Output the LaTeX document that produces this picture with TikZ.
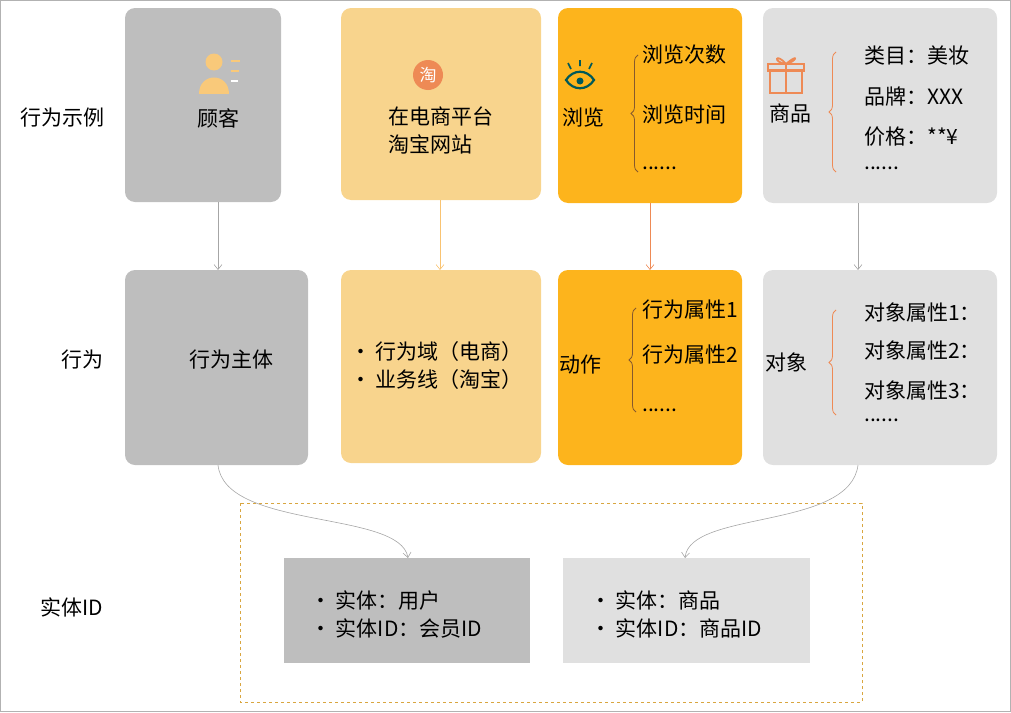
\documentclass[tikz,border=0pt]{standalone}
\usepackage{fontspec}
\setmainfont{Noto Sans CJK SC}
\usetikzlibrary{decorations.pathreplacing,arrows.meta}
\definecolor{cgray}{HTML}{BEBEBE}
\definecolor{clor}{HTML}{F8D48D}
\definecolor{cor}{HTML}{FDB41C}
\definecolor{clg}{HTML}{E0E0E0}
\definecolor{cred}{HTML}{EE8A55}
\definecolor{cgold}{HTML}{D9A640}
\definecolor{cface}{HTML}{F9C97A}
\begin{document}
\begin{tikzpicture}[x=1pt,y=-1pt,
  box/.style={rounded corners=10pt},
  txt/.style={font=\fontsize{21}{28}\selectfont, align=left, inner sep=0},
  conn/.style={draw=gray!70, line width=0.6pt, -{Straight Barb[length=5pt,width=8pt]}},
  br/.style={decorate, decoration={brace, amplitude=7pt}, line width=0.8pt}]
\useasboundingbox (0,0) rectangle (1011,712);
\draw[gray!60] (0.5,0.5) rectangle (1010.5,711.5);
% row 1
\fill[cgray,box] (125,8) rectangle (281,202);
\fill[clor,box] (341,8) rectangle (541,200);
\fill[cor,box] (558,8) rectangle (742,203);
\fill[clg,box] (763,8) rectangle (997,203);
% row 2
\fill[cgray,box] (125,270) rectangle (308,465);
\fill[clor,box] (341,270) rectangle (541,463);
\fill[cor,box] (558,270) rectangle (742,465);
\fill[clg,box] (763,270) rectangle (997,465);
% dashed
\draw[cgold, dashed, line width=0.8pt] (240,503) rectangle (862,702);
\fill[cgray] (284,558) rectangle (530,663);
\fill[clg] (563,558) rectangle (810,663);
% coordinates for connectors
\coordinate (a1) at (218,202); \coordinate (a2) at (218,270);
\coordinate (b1) at (440,200); \coordinate (b2) at (440,270);
\coordinate (c1) at (650,203); \coordinate (c2) at (650,270);
\coordinate (d1) at (858,203); \coordinate (d2) at (858,270);
\coordinate (e1) at (218,465); \coordinate (e2) at (408,558);
\coordinate (f1) at (858,465); \coordinate (f2) at (685,558);
\draw[conn] (a1) -- (a2);
\draw[conn, draw=clor!80!orange] (b1) -- (b2);
\draw[conn, draw=cred] (c1) -- (c2);
\draw[conn] (d1) -- (d2);
\draw[conn] (e1) .. controls (225,530) and (400,510) .. (e2);
\draw[conn] (f1) .. controls (850,530) and (690,510) .. (f2);
% left labels
\node[txt] (l1) at (62,118) {行为示例};
\node[txt] (l2) at (82,360) {行为};
\node[txt] (l3) at (72,607) {实体ID};
% icons
\fill[cface] (214,62) circle (8.5);
\fill[cface] (199,94) .. controls (199,72) and (229,72) .. (229,94) -- cycle;
\draw[cface, line width=2pt] (231,61)--(240,61) (231,71)--(239,71);
\draw[white, line width=2pt] (231,81)--(238,81);
\node[circle, fill=cred, minimum size=30pt, inner sep=0, text=white, font=\fontsize{17}{17}\selectfont] (tao) at (428,75) {淘};
\draw[teal!70!black, line width=2.2pt] (566,80) .. controls (573,69) and (587,69) .. (594,80) .. controls (587,91) and (573,91) .. cycle;
\fill[teal!70!black] (580,81) circle (3.5);
\draw[teal!70!black, line width=1.6pt] (580,60)--(580,66) (568,63)--(571,69) (592,63)--(589,69);
\draw[cred, line width=2pt] (770,70) rectangle (802,93) (768,64) rectangle (804,71) (786,64)--(786,93);
\draw[cred, line width=1.8pt] (786,64) .. controls (776,52) and (772,62) .. (786,64) .. controls (800,52) and (796,62) .. (786,64);
% row1 texts
\node[txt] (t1) at (218,118) {顾客};
\node[txt] (t2) at (441,130) {在电商平台\\淘宝网站};
\node[txt] (t3) at (583,118) {浏览};
\node[txt, anchor=west] (t3a) at (642,55) {浏览次数};
\node[txt, anchor=west] (t3b) at (642,115) {浏览时间};
\node[txt, anchor=west] (t3c) at (642,168) {......};
\draw[br, draw=brown!70!black] (638,172) -- (638,55);
\node[txt] (t4) at (790,113) {商品};
\node[txt, anchor=west] (t4a) at (864,55) {类目：美妆};
\node[txt, anchor=west] (t4b) at (864,97) {品牌：XXX};
\node[txt, anchor=west] (t4c) at (864,137) {价格：**¥};
\node[txt, anchor=west] (t4d) at (864,168) {......};
\draw[br, draw=cred] (836,172) -- (836,52);
% row2 texts
\node[txt] (s1) at (231,360) {行为主体};
\node[txt, anchor=west] (s2) at (350,366) {•\ 行为域（电商）\\•\ 业务线（淘宝）};
\node[txt] (s3) at (580,365) {动作};
\node[txt, anchor=west] (s3a) at (642,310) {行为属性1};
\node[txt, anchor=west] (s3b) at (642,355) {行为属性2};
\node[txt, anchor=west] (s3c) at (642,410) {......};
\draw[br, draw=brown!70!black] (636,412) -- (636,308);
\node[txt] (s4) at (786,362) {对象};
\node[txt, anchor=west] (s4a) at (864,312) {对象属性1：};
\node[txt, anchor=west] (s4b) at (864,350) {对象属性2：};
\node[txt, anchor=west] (s4c) at (864,390) {对象属性3：};
\node[txt, anchor=west] (s4d) at (864,420) {......};
\draw[br, draw=cred] (836,415) -- (836,310);
% entity
\node[txt, anchor=west] (u1) at (310,614) {•\ 实体：用户\\•\ 实体ID：会员ID};
\node[txt, anchor=west] (u2) at (590,614) {•\ 实体：商品\\•\ 实体ID：商品ID};
\end{tikzpicture}
\end{document}
